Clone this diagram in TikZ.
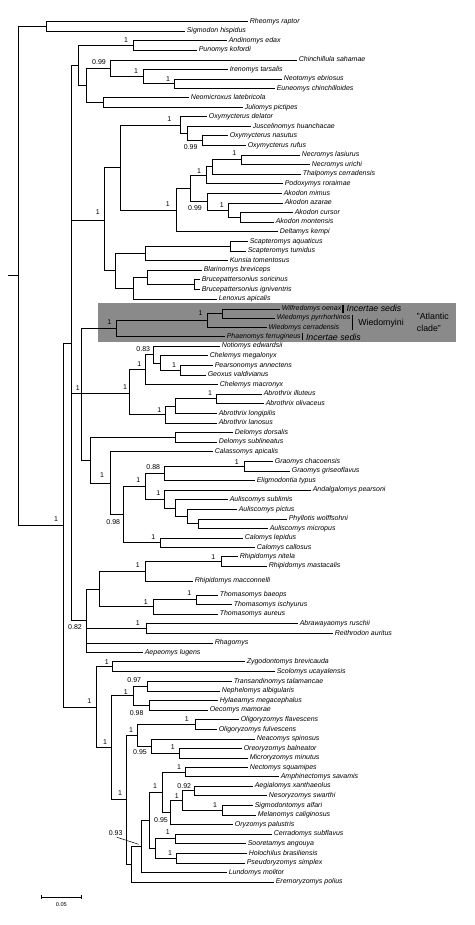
\documentclass[tikz,border=0pt]{standalone}
\usepackage{fontspec}
\setmainfont{Liberation Sans}
\usetikzlibrary{calc}
\definecolor{boxgray}{RGB}{138,138,138}
\begin{document}
\begin{tikzpicture}[x=1pt,y=-1pt,
  br/.style={line width=0.8pt,line join=miter},
  leaf/.style={anchor=west,inner xsep=1.6pt,inner ysep=0pt,font=\fontsize{7}{8}\selectfont\itshape,text height=5pt,text depth=1.5pt},
  sup/.style={inner sep=0pt,font=\fontsize{7}{8}\selectfont},
  ann/.style={anchor=west,inner sep=0pt,font=\fontsize{8.8}{10}\selectfont},
  bar/.style={line width=1.3pt}]
\useasboundingbox (0,0) rectangle (474,925);
\fill[white] (0,0) rectangle (474,925);
\fill[boxgray] (98.3,302.5) rectangle (456,342.3);
% internal nodes
\coordinate (rs) at (8,275.7);
\coordinate (root) at (18.3,275.7);
\coordinate (nRS) at (46,26.35);
\coordinate (B) at (63.3,525.1);
\coordinate (C) at (71,343);
\coordinate (C1) at (78.3,65.4);
\coordinate (nAP) at (133.3,45.35);
\coordinate (n86) at (86,85.35);
\coordinate (n099) at (110,68.25);
\coordinate (nIr) at (143.3,76.5);
\coordinate (nNE) at (174,83.65);
\coordinate (nNJ) at (103.3,102.5);
\coordinate (C2) at (104.3,220.1);
\coordinate (nOA) at (120,167.75);
\coordinate (nOx) at (180,125.15);
\coordinate (nOx2) at (187.7,133.6);
\coordinate (nOx3) at (202.7,140.5);
\coordinate (nAk) at (176.7,210.1);
\coordinate (nAk1) at (190.7,188.5);
\coordinate (nNe) at (206.7,175.35);
\coordinate (nNe2) at (212.7,166.8);
\coordinate (nNec) at (241.7,159.65);
\coordinate (nAk2) at (207.3,201.7);
\coordinate (nAk3) at (228.3,210.1);
\coordinate (nAk4) at (240.7,217.15);
\coordinate (nSK) at (115,270.75);
\coordinate (nSc) at (145.7,253.4);
\coordinate (nSc2) at (230.7,246.15);
\coordinate (nBL) at (133.3,288.1);
\coordinate (nBB) at (147.7,277.25);
\coordinate (nBr) at (194,284.5);
\coordinate (X) at (81.7,393.3);
\coordinate (nAtl) at (116.7,328.55);
\coordinate (nW1) at (207.3,320.4);
\coordinate (nW2) at (222.3,313.5);
\coordinate (nAbr) at (129.3,393.3);
\coordinate (nAb1) at (145,369.4);
\coordinate (n083) at (153.3,354.45);
\coordinate (nCh) at (160,362.9);
\coordinate (nPG) at (180,370.15);
\coordinate (nAb2) at (165.7,414.55);
\coordinate (nAb3) at (175.7,406.1);
\coordinate (nAb4) at (216.7,398.85);
\coordinate (nDP) at (90.7,460.1);
\coordinate (nDel) at (175,437.15);
\coordinate (n1P) at (110,483.1);
\coordinate (n098) at (123.3,514.5);
\coordinate (nPh1) at (145,486.2);
\coordinate (n088) at (164,473.4);
\coordinate (nGr) at (244.3,466.15);
\coordinate (nAnd) at (164,499.05);
\coordinate (nAu1) at (175.7,508.1);
\coordinate (nAu2) at (187.7,516.5);
\coordinate (nAu3) at (198.3,523.65);
\coordinate (nCal) at (160.7,542.85);
\coordinate (C82) at (86.7,620.65);
\coordinate (nRT) at (99.3,589);
\coordinate (nRh) at (145,571.2);
\coordinate (nRh2) at (221.7,561.35);
\coordinate (nTh) at (153.3,606.8);
\coordinate (nTh2) at (196,599.65);
\coordinate (nAR) at (146.7,628.5);
\coordinate (D) at (96,707.2);
\coordinate (nZS) at (112.7,666.7);
\coordinate (nO) at (111.7,747.7);
\coordinate (nTN) at (133.3,695.75);
\coordinate (n097) at (147.3,686.15);
\coordinate (n098b) at (149,705.35);
\coordinate (nL) at (126.7,799.7);
\coordinate (nOl) at (137.7,735.3);
\coordinate (nOli) at (195,724.5);
\coordinate (n095a) at (151.7,746.1);
\coordinate (nOr) at (179.3,753.15);
\coordinate (nLo) at (131.7,864.15);
\coordinate (n093) at (141.7,846.3);
\coordinate (nA) at (149.3,820.35);
\coordinate (nNec2) at (162.7,792.3);
\coordinate (nNA) at (185,772.2);
\coordinate (n095b) at (170.7,812.4);
\coordinate (nAeg) at (182.7,800.5);
\coordinate (n092) at (194.3,790.85);
\coordinate (nSM) at (222.7,810.15);
\coordinate (nCS) at (155.7,848.4);
\coordinate (nCe) at (175.7,838.65);
\coordinate (nHo) at (176.7,858.15);
% leaves
\node[leaf] (l1) at (248,21.7) {Rheomys raptor};
\node[leaf] (l2) at (185,31) {Sigmodon hispidus};
\node[leaf] (l3) at (227,40.7) {Andinomys edax};
\node[leaf] (l4) at (197,50) {Punomys kofordi};
\node[leaf] (l5) at (297,60) {Chinchillula sahamae};
\node[leaf] (l6) at (228,69.3) {Irenomys tarsalis};
\node[leaf] (l7) at (282,79) {Neotomys ebriosus};
\node[leaf] (l8) at (275,88.3) {Euneomys chinchilloides};
\node[leaf] (l9) at (189,97.7) {Neomicroxus latebricola};
\node[leaf] (l10) at (243,107.3) {Juliomys pictipes};
\node[leaf] (l11) at (207,116.7) {Oxymycterus delator};
\node[leaf] (l12) at (251,126.7) {Juscelinomys huanchacae};
\node[leaf] (l13) at (228,135.7) {Oxymycterus nasutus};
\node[leaf] (l14) at (246,145.3) {Oxymycterus rufus};
\node[leaf] (l15) at (300,155) {Necromys lasiurus};
\node[leaf] (l16) at (310,164.3) {Necromys urichi};
\node[leaf] (l17) at (301,174) {Thalpomys cerradensis};
\node[leaf] (l18) at (283,183.7) {Podoxymys roraimae};
\node[leaf] (l19) at (282,193.3) {Akodon mimus};
\node[leaf] (l20) at (283,203) {Akodon azarae};
\node[leaf] (l21) at (293,212.3) {Akodon cursor};
\node[leaf] (l22) at (274,222) {Akodon montensis};
\node[leaf] (l23) at (278,231.7) {Deltamys kempi};
\node[leaf] (l24) at (248,241.3) {Scapteromys aquaticus};
\node[leaf] (l25) at (246,251) {Scapteromys tumidus};
\node[leaf] (l26) at (228,260.7) {Kunsia tomentosus};
\node[leaf] (l27) at (202,270) {Blarinomys breviceps};
\node[leaf] (l28) at (200,279.7) {Brucepattersonius soricinus};
\node[leaf] (l29) at (200,289.3) {Brucepattersonius igniventris};
\node[leaf] (l30) at (217,299) {Lenoxus apicalis};
\node[leaf] (l31) at (280,309) {Wilfredomys oenax};
\node[leaf] (l32) at (275,318) {Wiedomys pyrrhorhinos};
\node[leaf] (l33) at (266.7,327.3) {Wiedomys cerradensis};
\node[leaf] (l34) at (225,336.7) {Phaenomys ferrugineus};
\node[leaf] (l35) at (220,346) {Notiomys edwardsii};
\node[leaf] (l36) at (208,355.7) {Chelemys megalonyx};
\node[leaf] (l37) at (213,365.3) {Pearsonomys annectens};
\node[leaf] (l38) at (206,375) {Geoxus valdivianus};
\node[leaf] (l39) at (218,384.3) {Chelemys macronyx};
\node[leaf] (l40) at (262,394) {Abrothrix illuteus};
\node[leaf] (l41) at (264,403.7) {Abrothrix olivaceus};
\node[leaf] (l42) at (217,413.3) {Abrothrix longipilis};
\node[leaf] (l43) at (217,423) {Abrothrix lanosus};
\node[leaf] (l44) at (233,432.3) {Delomys dorsalis};
\node[leaf] (l45) at (217,442) {Delomys sublineatus};
\node[leaf] (l46) at (213,451.7) {Calassomys apicalis};
\node[leaf] (l47) at (273,461.3) {Graomys chacoensis};
\node[leaf] (l48) at (290,471) {Graomys griseoflavus};
\node[leaf] (l49) at (255,480.7) {Eligmodontia typus};
\node[leaf] (l50) at (311,490) {Andalgalomys pearsoni};
\node[leaf] (l51) at (228,499.7) {Auliscomys sublimis};
\node[leaf] (l52) at (237,509.3) {Auliscomys pictus};
\node[leaf] (l53) at (287,519) {Phyllotis wolffsohni};
\node[leaf] (l54) at (268,528.3) {Auliscomys micropus};
\node[leaf] (l55) at (243,538) {Calomys lepidus};
\node[leaf] (l56) at (255,547.7) {Calomys callosus};
\node[leaf] (l57) at (238,556.7) {Rhipidomys nitela};
\node[leaf] (l58) at (267,566) {Rhipidomys mastacalis};
\node[leaf] (l59) at (193,581) {Rhipidomys macconnelli};
\node[leaf] (l60) at (218,595) {Thomasomys baeops};
\node[leaf] (l61) at (232,604.3) {Thomasomys ischyurus};
\node[leaf] (l62) at (218,614) {Thomasomys aureus};
\node[leaf] (l63) at (298,623.7) {Abrawayaomys ruschii};
\node[leaf] (l64) at (333,633.3) {Reithrodon auritus};
\node[leaf] (l65) at (213,643) {Rhagomys};
\node[leaf] (l66) at (143,652.3) {Aepeomys lugens};
\node[leaf] (l67) at (245,661.7) {Zygodontomys brevicauda};
\node[leaf] (l68) at (275,671.7) {Scolomys ucayalensis};
\node[leaf] (l69) at (232,681.3) {Transandinomys talamancae};
\node[leaf] (l70) at (220,691) {Nephelomys albigularis};
\node[leaf] (l71) at (218,700.7) {Hylaeamys megacephalus};
\node[leaf] (l72) at (208,710) {Oecomys mamorae};
\node[leaf] (l73) at (239,719.7) {Oligoryzomys flavescens};
\node[leaf] (l74) at (217,729.3) {Oligoryzomys fulvescens};
\node[leaf] (l75) at (255,739) {Neacomys spinosus};
\node[leaf] (l76) at (242,748.3) {Oreoryzomys balneator};
\node[leaf] (l77) at (248,758) {Microryzomys minutus};
\node[leaf] (l78) at (248,767.7) {Nectomys squamipes};
\node[leaf] (l79) at (279,776.7) {Amphinectomys savamis};
\node[leaf] (l80) at (253,786) {Aegialomys xanthaeolus};
\node[leaf] (l81) at (267,795.7) {Nesoryzomys swarthi};
\node[leaf] (l82) at (253,805.3) {Sigmodontomys alfari};
\node[leaf] (l83) at (256,815) {Melanomys caliginosus};
\node[leaf] (l84) at (233,824.3) {Oryzomys palustris};
\node[leaf] (l85) at (272,834) {Cerradomys subflavus};
\node[leaf] (l86) at (246,843.3) {Sooretamys angouya};
\node[leaf] (l87) at (247,853.3) {Holochilus brasiliensis};
\node[leaf] (l88) at (245,863) {Pseudoryzomys simplex};
\node[leaf] (l89) at (227,872.3) {Lundomys molitor};
\node[leaf] (l90) at (274,882) {Eremoryzomys polius};
% branches
\draw[br] (rs) -- (root);
\foreach \p/\c in {root/nRS, root/B, nRS/l1.west, nRS/l2.west, B/C, B/D,
  C/C1, C/C2, C/X, C/C82, C1/nAP, C1/n86, nAP/l3.west, nAP/l4.west,
  n86/n099, n86/nNJ, n099/l5.west, n099/nIr, nIr/l6.west, nIr/nNE,
  nNE/l7.west, nNE/l8.west, nNJ/l9.west, nNJ/l10.west,
  C2/nOA, C2/nSK, nOA/nOx, nOA/nAk, nOx/l11.west, nOx/nOx2,
  nOx2/l12.west, nOx2/nOx3, nOx3/l13.west, nOx3/l14.west,
  nAk/nAk1, nAk/l23.west, nAk1/nNe, nAk1/nAk2, nNe/nNe2, nNe/l18.west,
  nNe2/nNec, nNe2/l17.west, nNec/l15.west, nNec/l16.west,
  nAk2/l19.west, nAk2/nAk3, nAk3/l20.west, nAk3/nAk4, nAk4/l21.west, nAk4/l22.west,
  nSK/nSc, nSK/nBL, nSc/nSc2, nSc/l26.west, nSc2/l24.west, nSc2/l25.west,
  nBL/nBB, nBL/l30.west, nBB/l27.west, nBB/nBr, nBr/l28.west, nBr/l29.west,
  X/nAtl, X/nAbr, X/nDP, nAtl/nW1, nAtl/l34.west, nW1/nW2, nW1/l33.west,
  nW2/l31.west, nW2/l32.west,
  nAbr/nAb1, nAbr/nAb2, nAb1/n083, nAb1/l39.west, n083/l35.west, n083/nCh,
  nCh/l36.west, nCh/nPG, nPG/l37.west, nPG/l38.west,
  nAb2/nAb3, nAb2/l43.west, nAb3/nAb4, nAb3/l42.west, nAb4/l40.west, nAb4/l41.west,
  nDP/nDel, nDP/n1P, nDel/l44.west, nDel/l45.west, n1P/l46.west, n1P/n098,
  n098/nPh1, n098/nCal, nPh1/n088, nPh1/nAnd, n088/nGr, n088/l49.west,
  nGr/l47.west, nGr/l48.west, nAnd/l50.west, nAnd/nAu1, nAu1/l51.west, nAu1/nAu2,
  nAu2/l52.west, nAu2/nAu3, nAu3/l53.west, nAu3/l54.west, nCal/l55.west, nCal/l56.west,
  C82/nRT, C82/nAR, C82/l65.west, C82/l66.west, nRT/nRh, nRT/nTh,
  nRh/nRh2, nRh/l59.west, nRh2/l57.west, nRh2/l58.west,
  nTh/nTh2, nTh/l62.west, nTh2/l60.west, nTh2/l61.west, nAR/l63.west, nAR/l64.west,
  D/nZS, D/nO, nZS/l67.west, nZS/l68.west, nO/nTN, nO/nL,
  nTN/n097, nTN/n098b, n097/l69.west, n097/l70.west, n098b/l71.west, n098b/l72.west,
  nL/nOl, nL/nLo, nOl/nOli, nOl/n095a, nOli/l73.west, nOli/l74.west,
  n095a/l75.west, n095a/nOr, nOr/l76.west, nOr/l77.west,
  nLo/n093, nLo/l90.west, n093/nA, n093/l89.west, nA/nNec2, nA/nCS,
  nNec2/nNA, nNec2/n095b, nNA/l78.west, nNA/l79.west, n095b/nAeg, n095b/l84.west,
  nAeg/n092, nAeg/nSM, n092/l80.west, n092/l81.west, nSM/l82.west, nSM/l83.west,
  nCS/nCe, nCS/nHo, nCe/l85.west, nCe/l86.west, nHo/l87.west, nHo/l88.west}
  \draw[br] (\p) |- (\c);
% support values
\node[sup] (s1) at (126,40) {1};
\node[sup] (s2) at (99,62) {0.99};
\node[sup] (s3) at (136,71) {1};
\node[sup] (s4) at (168,79) {1};
\node[sup] (s5) at (169.3,119.3) {1};
\node[sup] (s6) at (190.7,147.3) {0.99};
\node[sup] (s7) at (234.3,153.3) {1};
\node[sup] (s8) at (199,170.7) {1};
\node[sup] (s9) at (167.7,204.3) {1};
\node[sup] (s10) at (97.7,211.7) {1};
\node[sup] (s11) at (195,207.7) {0.99};
\node[sup] (s12) at (221.7,205) {1};
\node[sup] (s13) at (200.5,313.5) {1};
\node[sup] (s14) at (109.3,322.3) {1};
\node[sup] (s15) at (143.3,349) {0.83};
\node[sup] (s16) at (139.3,364) {1};
\node[sup] (s17) at (174,365) {1};
\node[sup] (s18) at (77.7,387.7) {1};
\node[sup] (s19) at (125,386.7) {1};
\node[sup] (s20) at (210,392.7) {1};
\node[sup] (s21) at (159.3,410) {1};
\node[sup] (s22) at (102,475) {1};
\node[sup] (s23) at (236.7,461.7) {1};
\node[sup] (s24) at (153.3,466.7) {0.88};
\node[sup] (s25) at (138.3,480) {1};
\node[sup] (s26) at (158.3,493.3) {1};
\node[sup] (s27) at (113.3,521.7) {0.98};
\node[sup] (s28) at (56,519) {1};
\node[sup] (s29) at (153.3,536.7) {1};
\node[sup] (s30) at (213.3,556.7) {1};
\node[sup] (s31) at (137.7,565) {1};
\node[sup] (s32) at (189.3,593.3) {1};
\node[sup] (s33) at (145.7,602.3) {1};
\node[sup] (s34) at (137.7,623.3) {1};
\node[sup] (s35) at (75,627.3) {0.82};
\node[sup] (s36) at (106.7,661.7) {1};
\node[sup] (s37) at (134.3,680) {0.97};
\node[sup] (s38) at (125.7,692.3) {1};
\node[sup] (s39) at (89.3,701) {1};
\node[sup] (s40) at (136.7,712.7) {0.98};
\node[sup] (s41) at (186.7,719.3) {1};
\node[sup] (s42) at (131,730) {1};
\node[sup] (s43) at (105,742.3) {1};
\node[sup] (s44) at (172.7,747.3) {1};
\node[sup] (s45) at (140,752.3) {0.95};
\node[sup] (s46) at (179,767.3) {1};
\node[sup] (s47) at (155,785.7) {1};
\node[sup] (s48) at (184.3,785.7) {0.92};
\node[sup] (s49) at (120,793.3) {1};
\node[sup] (s50) at (176.7,796) {1};
\node[sup] (s51) at (215,805) {1};
\node[sup] (s52) at (161,820) {0.95};
\node[sup] (s53) at (167.7,831.7) {1};
\node[sup] (s54) at (115.7,833.3) {0.93};
\node[sup] (s55) at (170,853.3) {1};
\coordinate (lead) at (138.6,844.3);
\draw[line width=0.5pt] ($(s54.south)+(1,1.2)$) -- (lead);
% Atlantic clade annotations
\draw[bar] ($(l31.east)+(0,-3.6)$) -- ($(l31.east)+(0,3.6)$);
\node[ann,font=\fontsize{8.8}{10}\selectfont\itshape] (is1) at ($(l31.east)+(3.3,-0.3)$) {Incertae sedis};
\draw[bar] ($(l32.east)+(0.4,-3.3)$) -- ($(l32.east)+(0.4,11.7)$);
\node[ann] (wied) at ($(l32.east)+(6,5)$) {Wiedomyini};
\draw[bar] ($(l34.east)+(0,-3.6)$) -- ($(l34.east)+(0,3.6)$);
\node[ann,font=\fontsize{8.8}{10}\selectfont\itshape] (is2) at ($(l34.east)+(3.3,0.6)$) {Incertae sedis};
\node[ann] (atl1) at (416.7,316.3) {"Atlantic};
\node[ann] (atl2) at (416.7,328.7) {clade"};
% scale bar
\coordinate (sb1) at (41.7,897.3);
\coordinate (sb2) at (81,897.3);
\draw[line width=0.6pt] (sb1) -- (sb2);
\draw[line width=0.6pt] ($(sb1)+(0,-1.9)$) -- ($(sb1)+(0,1.9)$);
\draw[line width=0.6pt] ($(sb2)+(0,-1.9)$) -- ($(sb2)+(0,1.9)$);
\node[sup,font=\fontsize{5.6}{6}\selectfont] (sbl) at (61.3,904.5) {0.05};
\end{tikzpicture}
\end{document}
